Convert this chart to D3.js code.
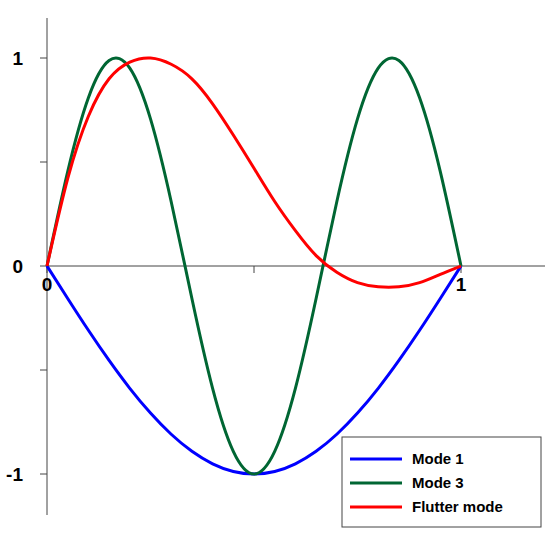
<!DOCTYPE html>
<html><head><meta charset="utf-8">
<script src="https://cdn.jsdelivr.net/npm/d3@7"></script>
<style>body{margin:0;background:#fff}</style>
</head><body><div id="chart"></div>
<script>
var xs = [0,0.05,0.1,0.15,0.2,0.25,0.3,0.35,0.4,0.45,0.5,0.55,0.6,0.65,0.7,0.75,0.8,0.85,0.9,0.95,1];
var mode1 = [0,-0.156,-0.309,-0.454,-0.588,-0.707,-0.809,-0.891,-0.951,-0.988,-1,-0.988,-0.951,-0.891,-0.809,-0.707,-0.588,-0.454,-0.309,-0.156,0];
var mode3 = [0,0.454,0.809,0.988,0.951,0.707,0.309,-0.156,-0.588,-0.891,-1,-0.891,-0.588,-0.156,0.309,0.707,0.951,0.988,0.809,0.454,0];
var flutter = [0,0.42,0.72,0.9,0.98,1.0,0.97,0.9,0.78,0.63,0.47,0.31,0.17,0.05,-0.03,-0.08,-0.1,-0.1,-0.08,-0.04,0];
var seriesNames = ["Mode 1","Mode 3","Flutter mode"];
var seriesColors = ["#0000ff","#006633","#ff0000"];
var yTicks = [-1,-0.5,0,0.5,1], yLabels = [-1,0,1];
var xTicks = [0,0.5,1], xLabels = [0,1];

var svg = d3.select('#chart').append('svg').attr('width',550).attr('height',542);
var x = d3.scaleLinear().domain([0,1]).range([47,461]);
var y = d3.scaleLinear().domain([-1,1]).range([474,58]);
var font = 'Arial, Liberation Sans, sans-serif';

svg.append('line').attr('x1',47).attr('x2',47).attr('y1',18).attr('y2',515).attr('stroke','#444');
svg.append('line').attr('x1',47).attr('x2',545).attr('y1',y(0)).attr('y2',y(0)).attr('stroke','#444');
svg.selectAll('.yt').data(yTicks).enter().append('line')
  .attr('x1',40).attr('x2',47).attr('y1',function(d){return y(d);}).attr('y2',function(d){return y(d);}).attr('stroke','#444');
svg.selectAll('.xt').data(xTicks).enter().append('line')
  .attr('x1',function(d){return x(d);}).attr('x2',function(d){return x(d);}).attr('y1',y(0)).attr('y2',y(0)+7).attr('stroke','#444');
svg.selectAll('.yl').data(yLabels).enter().append('text')
  .attr('x',23).attr('y',function(d){return y(d)+7;}).attr('text-anchor','end')
  .style('font-family',font).style('font-weight','bold').style('font-size','19px').text(function(d){return d;});
svg.selectAll('.xl').data(xLabels).enter().append('text')
  .attr('x',function(d){return x(d);}).attr('y',y(0)+25).attr('text-anchor','middle')
  .style('font-family',font).style('font-weight','bold').style('font-size','19px').text(function(d){return d;});

var line = d3.line().x(function(d){return x(d[0]);}).y(function(d){return y(d[1]);}).curve(d3.curveNatural);
[mode1,mode3,flutter].forEach(function(s,i){
  svg.append('path').attr('d',line(xs.map(function(v,j){return [v,s[j]];})))
    .attr('fill','none').attr('stroke',seriesColors[i]).attr('stroke-width',3);
});

var lg = svg.append('g').attr('transform','translate(342,437)');
lg.append('rect').attr('width',199).attr('height',90).attr('fill','#fff').attr('stroke','#444');
seriesNames.forEach(function(n,i){
  var yy = 22 + i*24;
  lg.append('line').attr('x1',8).attr('x2',60).attr('y1',yy).attr('y2',yy).attr('stroke',seriesColors[i]).attr('stroke-width',3);
  lg.append('text').attr('x',70).attr('y',yy+5).style('font-family',font).style('font-weight','bold').style('font-size','15px').text(n);
});
</script></body></html>
